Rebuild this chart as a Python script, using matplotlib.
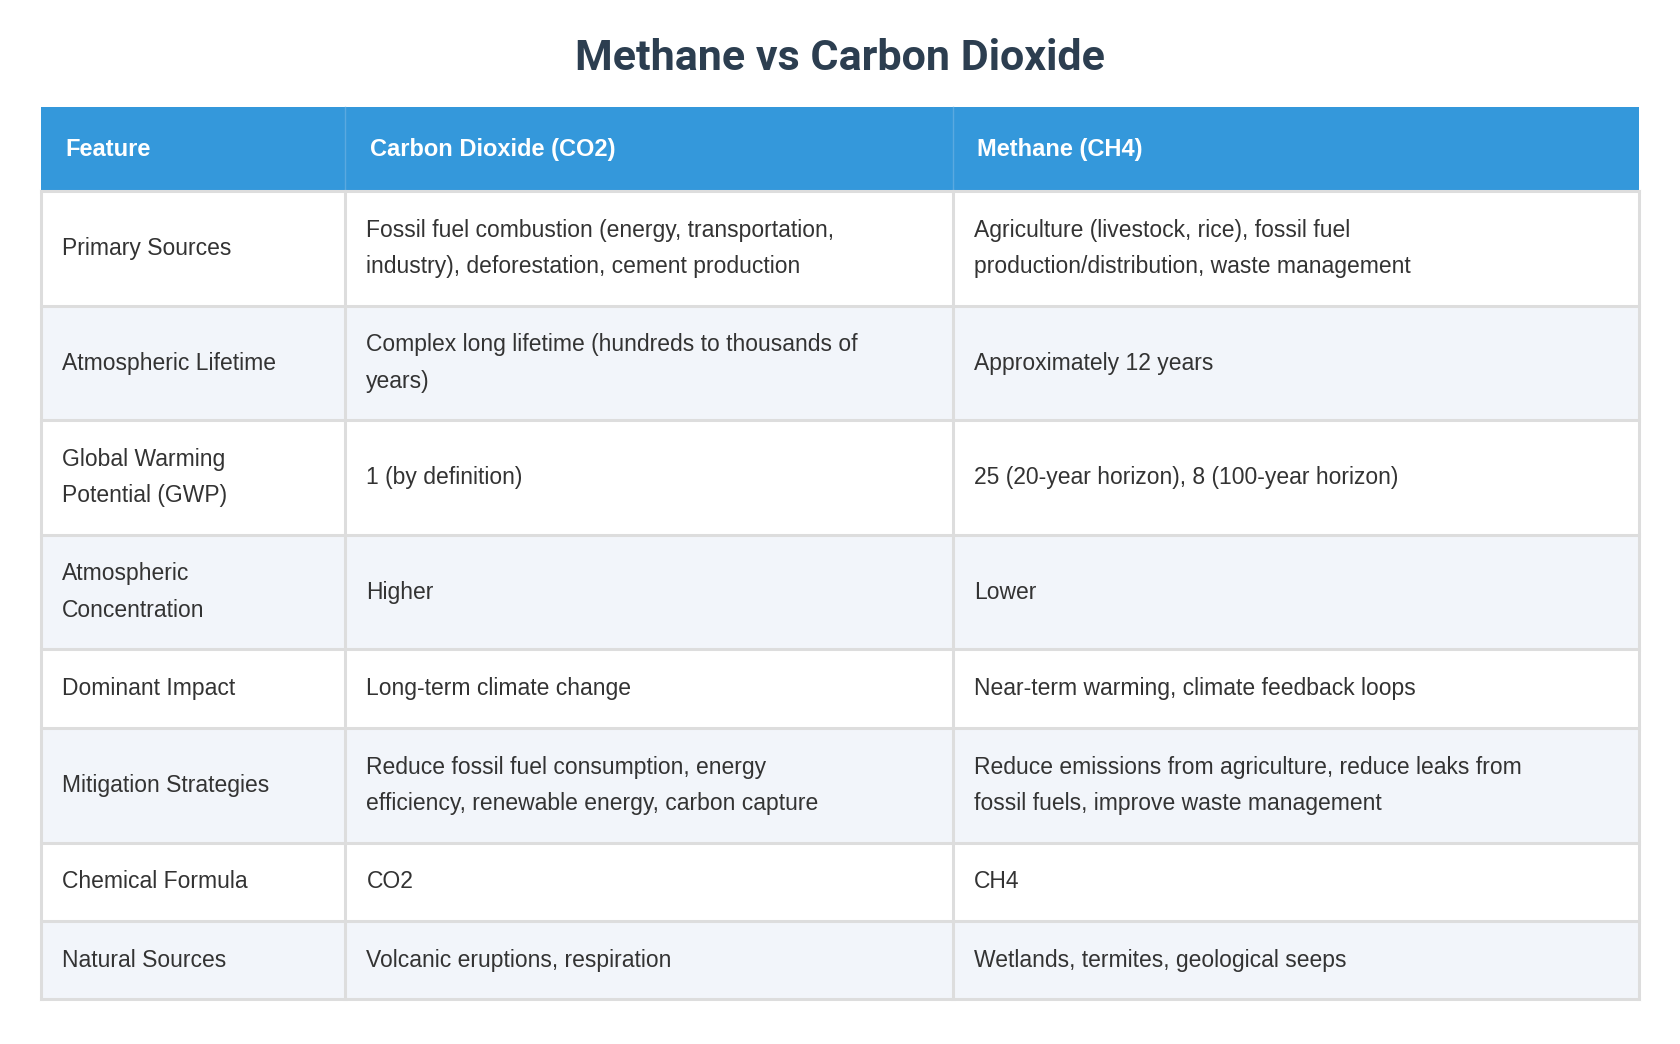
import matplotlib.pyplot as plt
from matplotlib.patches import Rectangle

title = "Methane vs Carbon Dioxide"
headers = ["Feature", "Carbon Dioxide (CO2)", "Methane (CH4)"]
features = [
    ["Primary Sources"],
    ["Atmospheric Lifetime"],
    ["Global Warming", "Potential (GWP)"],
    ["Atmospheric", "Concentration"],
    ["Dominant Impact"],
    ["Mitigation Strategies"],
    ["Chemical Formula"],
    ["Natural Sources"],
]
co2 = [
    ["Fossil fuel combustion (energy, transportation,", "industry), deforestation, cement production"],
    ["Complex long lifetime (hundreds to thousands of", "years)"],
    ["1 (by definition)"],
    ["Higher"],
    ["Long-term climate change"],
    ["Reduce fossil fuel consumption, energy", "efficiency, renewable energy, carbon capture"],
    ["CO2"],
    ["Volcanic eruptions, respiration"],
]
ch4 = [
    ["Agriculture (livestock, rice), fossil fuel", "production/distribution, waste management"],
    ["Approximately 12 years"],
    ["25 (20-year horizon), 8 (100-year horizon)"],
    ["Lower"],
    ["Near-term warming, climate feedback loops"],
    ["Reduce emissions from agriculture, reduce leaks from", "fossil fuels, improve waste management"],
    ["CH4"],
    ["Wetlands, termites, geological seeps"],
]

# layout in reference pixel units (1568 x 976)
W, H = 1568, 976
cols = [38, 322, 889, 1530]
header_y = (100, 179)
row_edges = [179, 286, 393, 500, 607, 681, 788, 861, 934]
line_gap = 34

fig = plt.figure(figsize=(16.8, 10.44), dpi=100)
ax = fig.add_axes([0, 0, 1, 1])
ax.set_xlim(0, W)
ax.set_ylim(H, 0)
ax.axis("off")

ax.text(W / 2, 55, title, ha="center", va="center", fontsize=31,
        fontweight="bold", color="#2c3e50", family="Roboto")

ax.add_patch(Rectangle((cols[0], header_y[0]), cols[-1] - cols[0],
                       header_y[1] - header_y[0], color="#3498db", lw=0))
for i, h in enumerate(headers):
    ax.text(cols[i] + 23, (header_y[0] + header_y[1]) / 2, h, ha="left", va="center",
            fontsize=17, fontweight="bold", color="white", family="Liberation Sans")
for x in cols[1:-1]:
    ax.plot([x, x], header_y, color="#5aa9e0", lw=1)

for r in range(len(features)):
    top, bot = row_edges[r], row_edges[r + 1]
    bg = "#f2f5fa" if r % 2 == 1 else "white"
    ax.add_patch(Rectangle((cols[0], top), cols[-1] - cols[0], bot - top,
                           facecolor=bg, edgecolor="none"))
    mid = (top + bot) / 2
    for c, cell in enumerate([features[r], co2[r], ch4[r]]):
        n = len(cell)
        for k, line in enumerate(cell):
            y = mid + (k - (n - 1) / 2) * line_gap
            ax.text(cols[c] + 20, y, line, ha="left", va="center",
                    fontsize=16.5, color="#333333", family="Liberation Sans")

# grid lines
for y in row_edges:
    ax.plot([cols[0], cols[-1]], [y, y], color="#dddddd", lw=2.2, zorder=3)
for x in cols:
    ax.plot([x, x], [row_edges[0], row_edges[-1]], color="#dddddd", lw=2.2, zorder=3)

fig.savefig("out.png", dpi=100, facecolor="white")
